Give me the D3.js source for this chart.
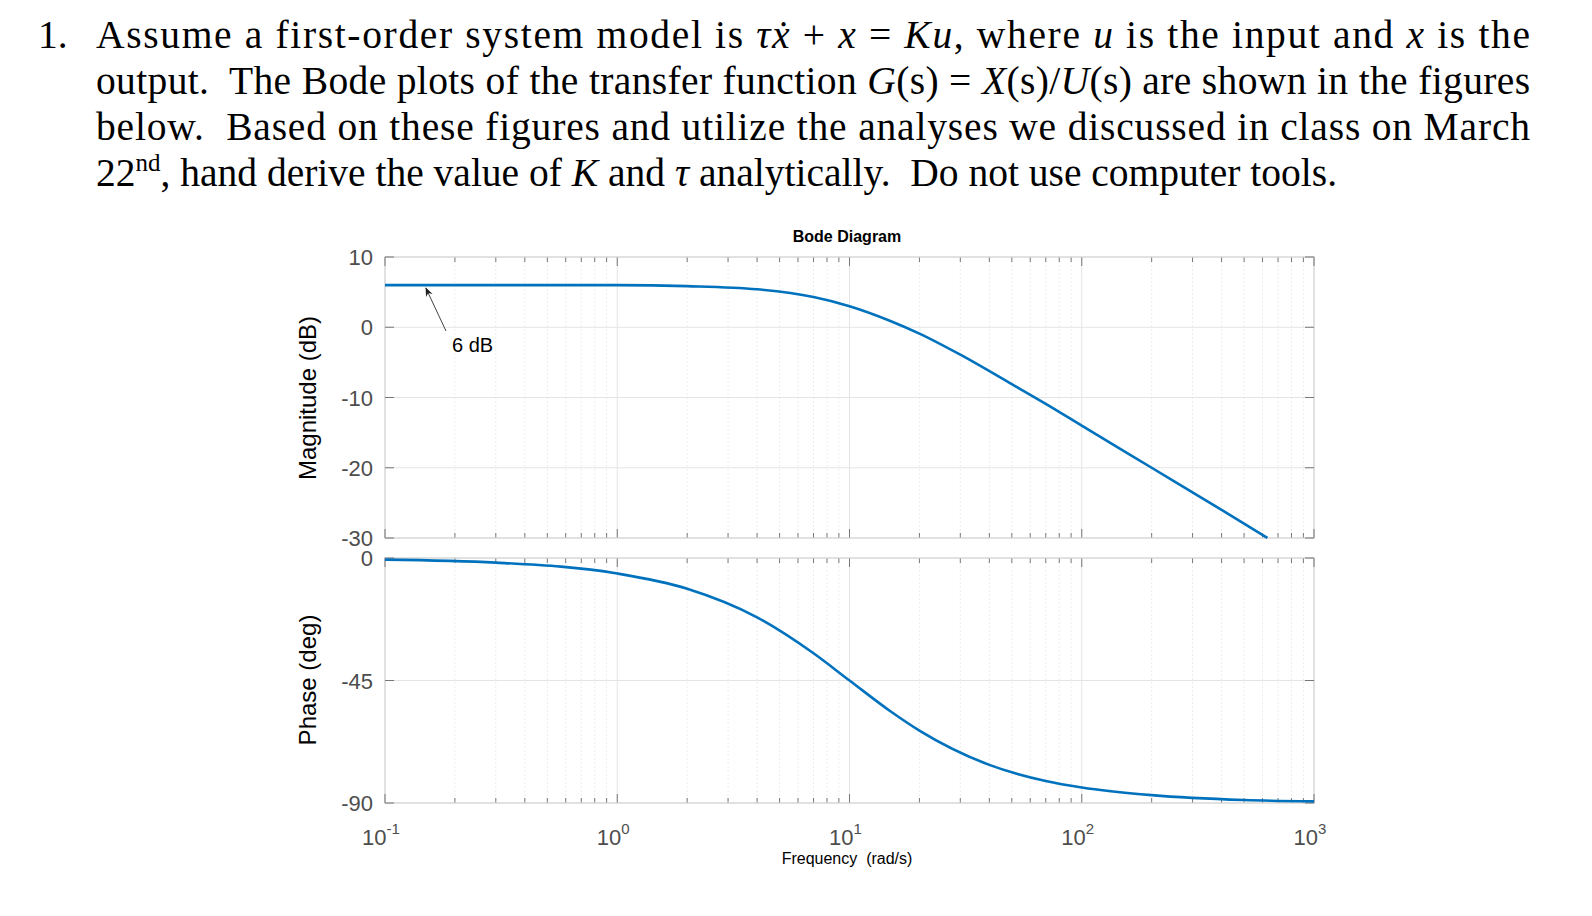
<!DOCTYPE html>
<html><head><meta charset="utf-8">
<script src="https://cdn.jsdelivr.net/npm/d3@7"></script>
<style>body{margin:0;background:#fff;overflow:hidden}svg{display:block}</style>
</head><body>
<div id="viz"></div>
<script>
// values
let magFreq = [0.1, 1, 2, 4, 7, 10, 15, 20, 30, 50, 70, 100, 200, 400, 630];
let magDb = [6.0, 6.0, 5.85, 5.4, 4.3, 3.0, 0.9, -0.9, -3.9, -8.1, -10.9, -14, -20, -26, -30];
let phFreq = [0.1, 0.3, 1, 2, 4, 7, 10, 15, 20, 40, 70, 100, 200, 500, 1000];
let phDeg = [-0.6, -1.7, -5.7, -11.3, -21.8, -35, -45, -56.3, -63.4, -76, -81.9, -84.3, -87.1, -88.9, -89.4];
let magTicks = [10, 0, -10, -20, -30];
let phTicks = [0, -45, -90];
let decades = [-1, 0, 1, 2, 3];

let svg = d3.select('#viz').append('svg').attr('width', 1592).attr('height', 916);

// question text
let serif = 'Liberation Serif, Times New Roman, serif';
let fs = 39.5;
let lines = [
  [['Assume a first-order system model is ', 0], ['τẋ', 1], [' + ', 0], ['x', 1], [' = ', 0], ['Ku', 1], [', where ', 0], ['u', 1], [' is the input and ', 0], ['x', 1], [' is the', 0]],
  [['output.  The Bode plots of the transfer function ', 0], ['G', 1], ['(s) = ', 0], ['X', 1], ['(s)/', 0], ['U', 1], ['(s) are shown in the figures', 0]],
  [['below.  Based on these figures and utilize the analyses we discussed in class on March', 0]]
];
svg.append('text').attr('x', 38).attr('y', 48).attr('font-family', serif).attr('font-size', fs).text('1.');
lines.forEach(function(l, i){
  let t = svg.append('text').attr('x', 96).attr('y', 48 + i*46).attr('font-family', serif).attr('font-size', fs)
    .attr('textLength', 1434).attr('lengthAdjust', 'spacing').attr('xml:space', 'preserve');
  l.forEach(function(p){ t.append('tspan').attr('font-style', p[1] ? 'italic' : 'normal').text(p[0]); });
});
let t4 = svg.append('text').attr('x', 96).attr('y', 186).attr('font-family', serif).attr('font-size', fs).attr('xml:space', 'preserve');
t4.append('tspan').text('22');
t4.append('tspan').attr('font-size', 25).attr('dy', -15).text('nd');
t4.append('tspan').attr('dy', 15).text(', hand derive the value of ');
t4.append('tspan').attr('font-style', 'italic').text('K');
t4.append('tspan').text(' and ');
t4.append('tspan').attr('font-style', 'italic').text('τ');
t4.append('tspan').text(' analytically.  Do not use computer tools.');

// chart
let sans = 'Liberation Sans, Helvetica, Arial, sans-serif';
let x = d3.scaleLog().domain([0.1, 1000]).range([385, 1314]);
let yM = d3.scaleLinear().domain([-30, 10]).range([538, 257]);
let yP = d3.scaleLinear().domain([-90, 0]).range([803, 558]);

function panel(y, ticks, fx, vals){
  let g = svg.append('g');
  let y0 = y.range()[0], y1 = y.range()[1];
  g.append('rect').attr('x', 385).attr('y', y1).attr('width', 929).attr('height', y0 - y1)
    .attr('fill', 'none').attr('stroke', '#bdbdbd');
  // grid
  decades.forEach(function(e){
    for (let m = 1; m < 10; m++) {
      let f = m * Math.pow(10, e);
      if (f > 1000) break;
      g.append('line').attr('x1', x(f)).attr('x2', x(f)).attr('y1', y1).attr('y2', y0)
        .attr('stroke', m == 1 ? '#e4e4e4' : '#ededed').attr('stroke-dasharray', m == 1 ? null : '2,2');
      g.append('line').attr('x1', x(f)).attr('x2', x(f)).attr('y1', y1).attr('y2', y1 + (m == 1 ? 9 : 5)).attr('stroke', '#777');
      g.append('line').attr('x1', x(f)).attr('x2', x(f)).attr('y1', y0).attr('y2', y0 - (m == 1 ? 9 : 5)).attr('stroke', '#777');
    }
  });
  ticks.forEach(function(v){
    g.append('line').attr('x1', 385).attr('x2', 1314).attr('y1', y(v)).attr('y2', y(v)).attr('stroke', '#e4e4e4');
    g.append('line').attr('x1', 385).attr('x2', 394).attr('y1', y(v)).attr('y2', y(v)).attr('stroke', '#777');
    g.append('line').attr('x1', 1305).attr('x2', 1314).attr('y1', y(v)).attr('y2', y(v)).attr('stroke', '#777');
    g.append('text').attr('x', 373).attr('y', y(v) + 8).attr('text-anchor', 'end').attr('font-family', sans)
      .attr('font-size', 22).attr('fill', '#4d4d4d').text(v);
  });
  let line = d3.line().x(function(d, i){ return x(fx[i]); }).y(function(d){ return y(d); }).curve(d3.curveMonotoneX);
  g.append('path').datum(vals).attr('d', line).attr('fill', 'none').attr('stroke', '#0072bd').attr('stroke-width', 2.6);
}
panel(yM, magTicks, magFreq, magDb);
panel(yP, phTicks, phFreq, phDeg);

// x tick labels
decades.forEach(function(e){
  let t = svg.append('text').attr('x', x(Math.pow(10, e)) - 4).attr('y', 845).attr('text-anchor', 'middle')
    .attr('font-family', sans).attr('font-size', 22).attr('fill', '#4d4d4d');
  t.append('tspan').text('10');
  t.append('tspan').attr('font-size', 15).attr('dy', -11).text(e);
});

svg.append('text').attr('x', 847).attr('y', 242).attr('text-anchor', 'middle').attr('font-family', sans)
  .attr('font-weight', 'bold').attr('font-size', 16).text('Bode Diagram');
svg.append('text').attr('x', 847).attr('y', 864).attr('text-anchor', 'middle').attr('font-family', sans)
  .attr('font-size', 16).attr('xml:space', 'preserve').text('Frequency  (rad/s)');
svg.append('text').attr('transform', 'translate(316,398) rotate(-90)').attr('text-anchor', 'middle')
  .attr('font-family', sans).attr('font-size', 24).text('Magnitude (dB)');
svg.append('text').attr('transform', 'translate(316,680) rotate(-90)').attr('text-anchor', 'middle')
  .attr('font-family', sans).attr('font-size', 24).text('Phase (deg)');

// annotation
svg.append('defs').append('marker').attr('id', 'arr').attr('viewBox', '0 0 10 10').attr('refX', 9).attr('refY', 5)
  .attr('markerWidth', 9).attr('markerHeight', 9).attr('orient', 'auto')
  .append('path').attr('d', 'M0,1 L10,5 L0,9 L3,5 Z').attr('fill', '#222');
svg.append('line').attr('x1', 446).attr('y1', 331).attr('x2', x(0.15)).attr('y2', yM(6) + 3)
  .attr('stroke', '#444').attr('stroke-width', 1).attr('marker-end', 'url(#arr)');
svg.append('text').attr('x', 452).attr('y', 352).attr('font-family', sans).attr('font-size', 20).text('6 dB');
</script>
</body></html>
